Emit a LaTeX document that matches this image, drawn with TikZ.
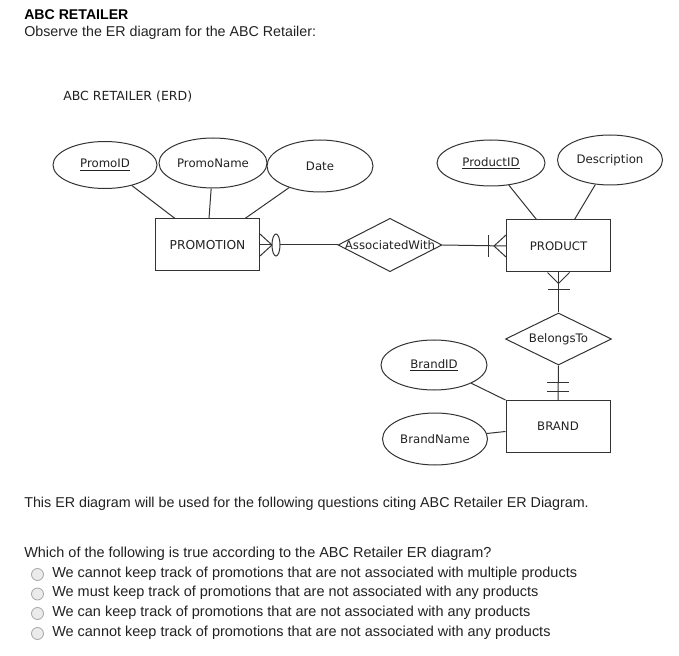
\documentclass[tikz,border=0pt]{standalone}
\usepackage{fontspec}
\setmainfont{Liberation Sans}
\newfontfamily\erdfont{DejaVu Sans}
\usetikzlibrary{shapes.geometric,calc}
\definecolor{linecol}{HTML}{333333}
\definecolor{txtcol}{HTML}{222222}
\tikzset{
  pagetext/.style={anchor=base west,inner sep=0pt,text=txtcol,font=\fontsize{10.85}{12}\selectfont},
  erd/.style={font=\erdfont\fontsize{8.8}{10}\selectfont,text=txtcol},
  attr/.style={erd,ellipse,draw=linecol,line width=0.75pt,inner sep=0pt,minimum width=80pt,minimum height=36pt},
  entity/.style={erd,rectangle,draw=linecol,line width=0.75pt,inner sep=0pt,minimum width=78pt,minimum height=39pt},
  rel/.style={erd,diamond,draw=linecol,line width=0.75pt,inner sep=0pt,minimum width=78pt,minimum height=40pt},
  conn/.style={draw=linecol,line width=0.75pt},
  radio/.style={circle,draw=black!35,fill=black!8,line width=0.6pt,minimum size=9pt,inner sep=0pt}
}
\begin{document}
\begin{tikzpicture}[x=0.75pt,y=-0.75pt]
\useasboundingbox[fill=white] (0,0) rectangle (679,656);
% header texts
\node[pagetext,text=black,font=\bfseries\fontsize{10.6}{12}\selectfont] (title) at (24,19.5) {ABC RETAILER};
\node[pagetext,font=\fontsize{10.7}{12}\selectfont] (observe) at (24,37) {Observe the ER diagram for the ABC Retailer:};
\node[erd,anchor=base west,inner sep=0pt,font=\erdfont\fontsize{9.4}{10}\selectfont] (erdtitle) at (63,101) {ABC RETAILER (ERD)};
% entities
\node[entity,font=\erdfont\fontsize{9.2}{10}\selectfont] (promotion) at (207.5,245) {PROMOTION};
\node[entity] (product) at (558.5,246) {PRODUCT};
\node[entity] (brand) at (558,426.5) {BRAND};
% relationships
\node[rel,label={[erd]center:AssociatedWith}] (assoc) at (390,245) {};
\node[rel,minimum width=79.5pt,minimum height=39pt,label={[erd]center:BelongsTo}] (belongs) at (558.5,339) {};
% attributes
\node[attr,minimum width=78pt,minimum height=35.25pt] (promoid) at (105,165) {\underline{PromoID}};
\node[attr,minimum width=81pt,minimum height=37.5pt] (promoname) at (213,163) {PromoName};
\node[attr,minimum width=79.5pt,minimum height=39pt] (date) at (320,166) {Date};
\node[attr,minimum width=81pt,minimum height=34.5pt] (productid) at (491,163) {\underline{ProductID}};
\node[attr,minimum width=78.75pt,minimum height=37.5pt] (description) at (610,160) {Description};
\node[attr,minimum width=79.5pt,minimum height=37.5pt] (brandid) at (434,365) {\underline{BrandID}};
\node[attr,minimum width=78.75pt,minimum height=39pt] (brandname) at (435,439) {BrandName};
% attribute links
\draw[conn] (promoid) -- ($(promotion.north)+(-32.5,0)$);
\draw[conn] (promoname) -- ($(promotion.north)+(1.5,0)$);
\draw[conn] (date) -- ($(promotion.north)+(37.5,0)$);
\draw[conn] (productid) -- ($(product.north)+(-22,0)$);
\draw[conn] (description) -- ($(product.north)+(16,0)$);
\draw[conn] (brandid) -- (brand.north west);
\draw[conn] (brandname) -- ($(brand.west)+(0,5)$);
% relationship links
\draw[conn] (promotion.east) -- (assoc.west);
\draw[conn] (assoc.east) -- (product.west);
\draw[conn] (product.south) -- (belongs.north);
\draw[conn] (belongs.south) -- (brand.north);
% crow's foot: promotion side (zero or many)
\draw[conn] ($(promotion.east)+(0,-11)$) -- ($(promotion.east)+(12,0)$) -- ($(promotion.east)+(0,11)$);
\draw[conn,fill=white] ($(promotion.east)+(16,0)$) ellipse [x radius=3pt, y radius=8.25pt];
% product west side (one or many)
\draw[conn] ($(product.west)+(0,-11)$) -- ($(product.west)+(-12,0)$) -- ($(product.west)+(0,11)$);
\draw[conn] ($(product.west)+(-18,-11)$) -- ($(product.west)+(-18,11)$);
% product south side (one or many)
\draw[conn] ($(product.south)+(-11,0)$) -- ($(product.south)+(0,11)$) -- ($(product.south)+(11,0)$);
\draw[conn] ($(product.south)+(-11,17)$) -- ($(product.south)+(11,17)$);
% brand north side (one and only one)
\draw[conn] ($(brand.north)+(-11,-18)$) -- ($(brand.north)+(11,-18)$);
\draw[conn] ($(brand.north)+(-11,-9)$) -- ($(brand.north)+(11,-9)$);
% bottom texts
\node[pagetext,font=\fontsize{10.73}{12}\selectfont] (intro) at (24,507) {This ER diagram will be used for the following questions citing ABC Retailer ER Diagram.};
\node[pagetext] (question) at (24,557) {Which of the following is true according to the ABC Retailer ER diagram?};
\node[radio] (r1) at (37.5,574.5) {};
\node[radio] (r2) at (37.5,594) {};
\node[radio] (r3) at (37.5,613.5) {};
\node[radio] (r4) at (37.5,633.5) {};
\node[pagetext] (o1) at (52,577) {We cannot keep track of promotions that are not associated with multiple products};
\node[pagetext] (o2) at (52,596.5) {We must keep track of promotions that are not associated with any products};
\node[pagetext] (o3) at (52,616) {We can keep track of promotions that are not associated with any products};
\node[pagetext] (o4) at (52,636) {We cannot keep track of promotions that are not associated with any products};
\end{tikzpicture}
\end{document}
